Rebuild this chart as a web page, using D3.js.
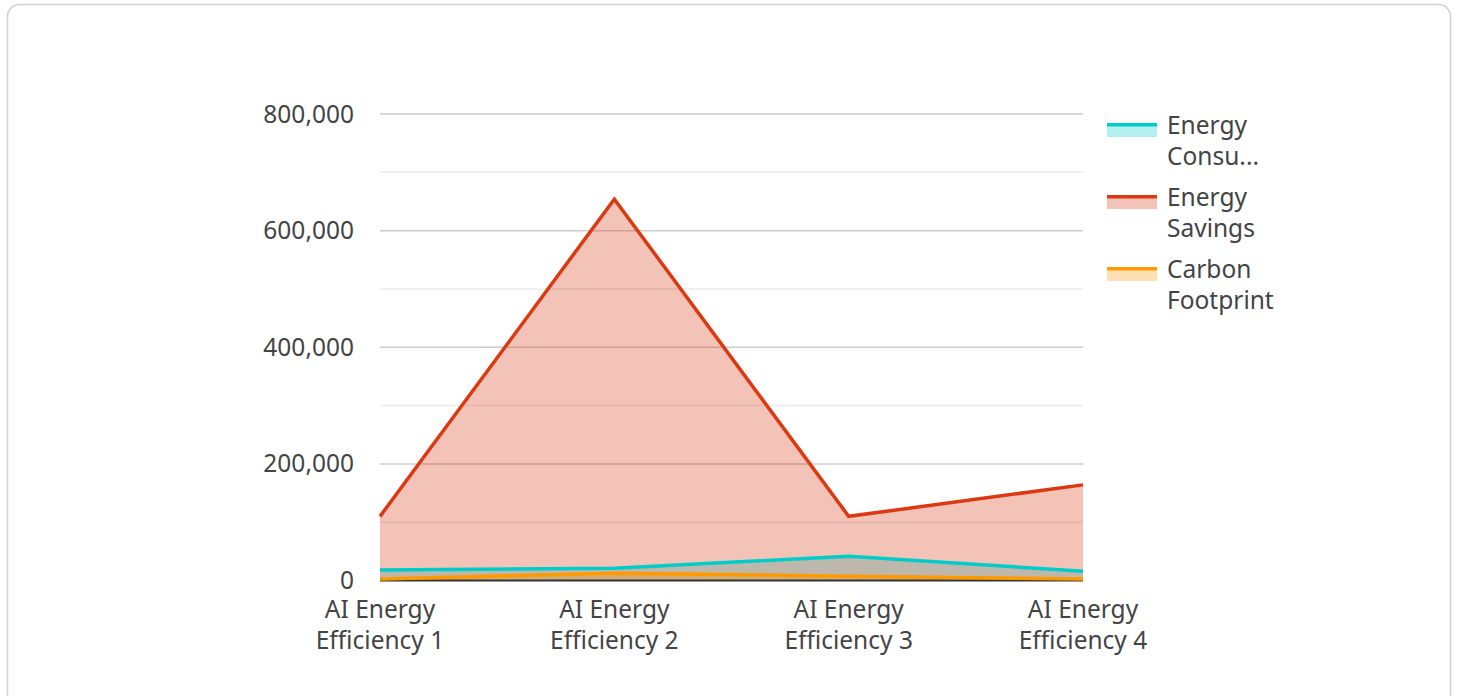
<!DOCTYPE html>
<html>
<head>
<meta charset="utf-8">
<script src="https://cdn.jsdelivr.net/npm/d3@7"></script>
<style>
  body { margin: 0; background: #fff; }
  text { font-family: "Noto Sans", sans-serif; fill: #444; }
</style>
</head>
<body>
<svg class="chart"></svg>
<script>
let width = 1458,
  height = 696;

// chart data
let categories = ["AI Energy Efficiency 1", "AI Energy Efficiency 2", "AI Energy Efficiency 3", "AI Energy Efficiency 4"];
let seriesNames = ["Energy Consumption", "Energy Savings", "Carbon Footprint"];
let consumption = [18000, 21000, 41500, 16000];
let savings = [110000, 654000, 110000, 164000];
let carbon = [2500, 12500, 7500, 2500];
let yTicks = [0, 200000, 400000, 600000, 800000];
let legendLines = [["Energy", "Consu..."], ["Energy", "Savings"], ["Carbon", "Footprint"]];
let colors = ["#00cccc", "#dc3912", "#ff9900"];

let svg = d3.select(".chart").attr("width", width).attr("height", height);

// card behind the chart
svg.append("rect")
  .attr("x", 7.5).attr("y", 4.5)
  .attr("width", 1443).attr("height", 720)
  .attr("rx", 12)
  .attr("fill", "#fff")
  .attr("stroke", "#d0d0d0")
  .attr("stroke-width", 1.5);

let x = d3.scalePoint().domain(categories).range([380, 1083]);
let y = d3.scaleLinear().domain([0, 800000]).range([580.5, 114]);

// gridlines, minor ones lighter
let minor = d3.range(100000, 800000, 200000);
svg.selectAll(".minor")
  .data(minor).enter().append("line")
  .attr("x1", 380).attr("x2", 1083)
  .attr("y1", d => y(d)).attr("y2", d => y(d))
  .attr("stroke", "#ebebeb").attr("stroke-width", 1.5);
svg.selectAll(".major")
  .data(yTicks.slice(1)).enter().append("line")
  .attr("x1", 380).attr("x2", 1083)
  .attr("y1", d => y(d)).attr("y2", d => y(d))
  .attr("stroke", "#cccccc").attr("stroke-width", 1.5);

// y labels
let fmt = d3.format(",");
svg.selectAll(".ylab")
  .data(yTicks).enter().append("text")
  .attr("x", 354)
  .attr("y", d => y(d))
  .attr("dy", "0.35em")
  .attr("text-anchor", "end")
  .style("font-size", "24.5px")
  .text(d => fmt(d));

// x labels, two lines each
let xl = svg.selectAll(".xlab")
  .data(categories).enter().append("text")
  .attr("text-anchor", "middle")
  .style("font-size", "24.5px");
xl.append("tspan")
  .attr("x", d => x(d)).attr("y", 618)
  .text(d => d.split(" ").slice(0, 2).join(" "));
xl.append("tspan")
  .attr("x", d => x(d)).attr("y", 649)
  .text(d => d.split(" ").slice(2).join(" "));

let all = [consumption, savings, carbon];

let area = d3.area()
  .x((d, i) => x(categories[i]))
  .y0(y(0))
  .y1(d => y(d));
let line = d3.line()
  .x((d, i) => x(categories[i]))
  .y(d => y(d));

svg.selectAll(".area")
  .data(all).enter().append("path")
  .attr("d", area)
  .attr("fill", (d, i) => colors[i])
  .attr("fill-opacity", 0.3);

// baseline
svg.append("line")
  .attr("x1", 380).attr("x2", 1083)
  .attr("y1", y(0)).attr("y2", y(0))
  .attr("stroke", "#333").attr("stroke-width", 2);

svg.selectAll(".line")
  .data(all).enter().append("path")
  .attr("d", line)
  .attr("fill", "none")
  .attr("stroke", (d, i) => colors[i])
  .attr("stroke-width", 3.5)
  .attr("stroke-linejoin", "miter");

// legend
let lg = svg.selectAll(".legend")
  .data(seriesNames).enter().append("g")
  .attr("transform", (d, i) => "translate(1107," + (125 + i * 72) + ")");
lg.append("rect")
  .attr("x", 0).attr("y", 0)
  .attr("width", 50).attr("height", 12)
  .attr("fill", (d, i) => colors[i])
  .attr("fill-opacity", 0.3);
lg.append("rect")
  .attr("x", 0).attr("y", -2)
  .attr("width", 50).attr("height", 3.5)
  .attr("fill", (d, i) => colors[i]);
let lt = lg.append("text").style("font-size", "24.5px");
lt.append("tspan").attr("x", 60).attr("y", 9).text((d, i) => legendLines[i][0]);
lt.append("tspan").attr("x", 60).attr("y", 40).text((d, i) => legendLines[i][1]);
</script>
</body>
</html>
